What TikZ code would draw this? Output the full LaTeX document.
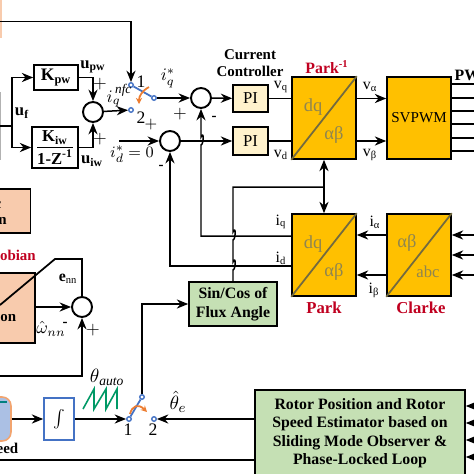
\documentclass[tikz,border=0pt]{standalone}
\usepackage{fontspec}
\setmainfont{Liberation Serif}
\usetikzlibrary{arrows.meta}
\definecolor{peach}{HTML}{F8CBAD}
\definecolor{amber}{HTML}{FFC000}
\definecolor{leaf}{HTML}{C5E0B4}
\definecolor{cream}{HTML}{FFF2CC}
\definecolor{swblue}{HTML}{4472C4}
\definecolor{swor}{HTML}{ED7D31}
\definecolor{redlab}{HTML}{C00020}
\definecolor{dqcol}{HTML}{8F8550}
\tikzset{
  box/.style={draw, line width=.9pt, inner sep=0pt},
  pibox/.style={box, fill=cream, minimum width=.7cm, minimum height=.55cm, font=\fontsize{9.5}{11}\selectfont},
  dqbox/.style={box, fill=amber, minimum width=1.28cm, minimum height=1.64cm, font=\fontsize{8.6}{10}\selectfont},
  sumc/.style={circle, draw, line width=1.1pt, fill=white, minimum size=.4cm, inner sep=0pt},
  swc/.style={circle, draw=swblue, line width=.8pt, fill=white, minimum size=.09cm, inner sep=0pt},
  lab/.style={font=\fontsize{9}{10}\selectfont, inner sep=0pt},
  mlab/.style={font=\fontsize{10}{11}\selectfont, inner sep=0pt},
  blab/.style={font=\fontsize{8.5}{10}\bfseries\selectfont, inner sep=0pt},
  redt/.style={blab, text=redlab},
  dqt/.style={font=\fontsize{10.5}{12}\selectfont, text=dqcol, inner sep=0pt},
  diag/.style={draw=dqcol!80!black, line width=1pt}
}
\begin{document}
\begin{tikzpicture}[>={Stealth[length=6.5pt,width=5.2pt]}, x=.02cm, y=-.02cm, line width=.85pt]
\path[use as bounding box, clip] (0,0) rectangle (474,474);
\fill[white] (0,0) rectangle (474,474);
% cut off blocks on the left edge
\fill[peach] (-10,-5) rectangle (2,38);
\fill[gray!60] (-10,92) rectangle (1.5,160);
\node[box, fill=peach, minimum width=1.02cm, minimum height=.88cm] (emu) at (5,211) {};
\node[blab, anchor=east] (emua) at (2,205) {c};
\node[blab, anchor=east] (emub) at (7.5,221) {n};
\node[box, fill=peach, minimum width=1.4cm, minimum height=1.4cm] (nnet) at (0,308) {};
\node[blab, anchor=east] (nneta) at (17,318) {on};
\node[redt, anchor=east] (jac) at (36.5,255) {Jacobian};
\node[box, draw=swor!70, fill=swblue!45, rounded corners=5pt, minimum width=.8cm, minimum height=.88cm] (speed) at (-9,419) {};
\draw[teal, line width=.8pt] (0,402) -- (7,402);
\node[blab, anchor=east] (speedt) at (19,450) {Speed};
% upper left loop
\node[box, minimum width=.88cm, minimum height=.5cm, font=\fontsize{10}{12}\bfseries\selectfont] (kpw) at (56,77.5) {K\textsubscript{pw}};
\node[box, minimum width=.92cm, minimum height=.82cm, font=\fontsize{9.5}{11}\bfseries\selectfont] (kiw) at (55,147.5) {$\displaystyle\frac{\textbf{K\textsubscript{iw}}}{\textbf{1-Z\textsuperscript{-1}}}$};
\node[sumc] (sumu) at (93,112) {};
\coordinate (fin) at (-2,126);
\coordinate (fj) at (12,126);
\draw (fin) -- (fj);
\draw[->] (fj) |- (kpw);
\draw[->] (fj) |- (kiw);
\draw[->] (kpw) -| (sumu);
\draw[->] (kiw) -| (sumu);
\node[blab, font=\fontsize{9.5}{11}\bfseries\selectfont] (uf) at (22,113) {u\textsubscript{f}};
\node[blab, font=\fontsize{9.5}{11}\bfseries\selectfont] (upw) at (93,67) {u\textsubscript{pw}};
\node[blab, font=\fontsize{9.5}{11}\bfseries\selectfont] (uiw) at (92,161) {u\textsubscript{iw}};
\node[mlab] (pa) at (100,84) {$+$};
\node[mlab] (pb) at (100,139) {$+$};
% current switch
\node[swc] (swa) at (131,85) {};
\node[swc] (swb) at (131,110) {};
\node[swc] (swq) at (154,98) {};
\coordinate (topl) at (-2,21.5);
\draw[->] (topl) -| (swa);
\draw[->] (sumu) -- (swb);
\draw[swblue, line width=1pt] (swa) -- (swq);
\draw[->, swor, line width=1pt, >={Stealth[length=3.5pt,width=3.5pt]}] (149,87) .. controls (142,91) and (139,96) .. (139,104);
\node[mlab] (sa) at (141,82) {1};
\node[mlab] (sb) at (141,118) {2};
\node[mlab, anchor=west] (inf) at (106,96) {$i_q^{\,\textit{\fontsize{7.5}{8}\selectfont nfc}}$};
\node[mlab] (iqs) at (168,78) {$i_q^{*}$};
\node[lab] (pc) at (151,125) {$+$};
% current controllers
\node[sumc] (sumq) at (201,98) {};
\node[sumc] (sumd) at (170,141) {};
\node[pibox] (pia) at (250.5,98.5) {PI};
\node[pibox] (pib) at (250.5,141) {PI};
\coordinate (idin) at (119,141);
\node[mlab, font=\fontsize{9.5}{11}\selectfont] (ids) at (132,154) {$i_d^{*}=0$};
\draw[->] (swq) -- (sumq);
\draw[->] (idin) -- (sumd);
\draw[->] (sumq) -- (pia);
\draw[->] (sumd) -- (pib);
\node[mlab] (pd) at (180,114) {$+$};
\node[blab] (me) at (214,118) {-};
\node[blab] (mf) at (161,167) {-};
\node[blab, align=center, font=\fontsize{8.5}{9.6}\bfseries\selectfont] (ctl) at (250,63.5) {Current\\Controller};
% inverse park and svpwm
\node[dqbox] (parkinv) at (324,118) {};
\node[dqbox] (svpwm) at (419,118) {SVPWM};
\draw[diag] (parkinv.south west) -- (parkinv.north east);
\node[dqt] (dqa) at (313,107) {dq};
\node[dqt] (aba) at (334,135) {αβ};
\node[redt, font=\fontsize{9}{10}\bfseries\selectfont] (parkit) at (327,67) {Park\textsuperscript{-1}};
\draw (pia) -- (pia -| parkinv.west);
\draw (pib) -- (pib -| parkinv.west);
\draw[->] (pia -| parkinv.east) -- (pia -| svpwm.west);
\draw[->] (pib -| parkinv.east) -- (pib -| svpwm.west);
\node[lab] (vq) at (281,87) {v\textsubscript{q}};
\node[lab] (vd) at (281,155) {v\textsubscript{d}};
\node[lab] (va) at (370,87) {v\textsubscript{α}};
\node[lab] (vb) at (370,155) {v\textsubscript{β}};
\node[blab, anchor=west, font=\fontsize{9}{10}\bfseries\selectfont] (pwm) at (454,75) {PWM};
\foreach \y in {84,98,111,124,138,151}{
  \coordinate (pw\y) at (476,\y);
  \draw (pw\y -| svpwm.east) -- (pw\y);
}
% park and clarke
\node[dqbox] (park) at (324,255) {};
\node[dqbox] (clarke) at (419,255) {};
\draw[diag] (park.south west) -- (park.north east);
\draw[diag] (clarke.south west) -- (clarke.north east);
\node[dqt] (dqb) at (313,244) {dq};
\node[dqt] (abb) at (334,272) {αβ};
\node[dqt] (abc) at (407,243) {αβ};
\node[dqt, font=\fontsize{9.5}{11}\selectfont] (abcd) at (428,272) {abc};
\node[redt, font=\fontsize{9.5}{10}\bfseries\selectfont] (parkt) at (324,308) {Park};
\node[redt, font=\fontsize{9.5}{10}\bfseries\selectfont] (clarket) at (421,308) {Clarke};
\draw[<->] (parkinv) -- (park);
\coordinate (ca) at (0,235);
\coordinate (cb) at (0,275);
\draw[->] (ca -| clarke.west) -- (ca -| park.east);
\draw[->] (cb -| clarke.west) -- (cb -| park.east);
\foreach \y in {235,255,275}{
  \coordinate (ph\y) at (476,\y);
  \draw[->] (ph\y) -- (ph\y -| clarke.east);
}
\node[lab] (iq) at (281,222) {i\textsubscript{q}};
\node[lab] (id) at (281,258) {i\textsubscript{d}};
\node[lab] (ia) at (375,222) {i\textsubscript{α}};
\node[lab] (ib) at (374,290) {i\textsubscript{β}};
% feedback with jumps
\node[box, fill=leaf, minimum width=1.76cm, minimum height=.88cm, align=center, font=\fontsize{9}{11}\bfseries\selectfont] (sincos) at (233,304) {Sin/Cos of\\Flux Angle};
\coordinate (iqp) at (292,236);
\coordinate (idp) at (292,266);
\coordinate (bumpq) at (201,145);
\coordinate (bumpa) at (233,270);
\coordinate (bumpb) at (233,240);
\coordinate (parkj) at (324,187);
\draw[->] (iqp) -| (bumpq) .. controls +(3,-1) and +(3,-7) .. ++(0,-8) -- (sumq);
\draw[->] (idp) -| (sumd);
\draw (sincos) -- (bumpa) .. controls +(3,-1) and +(3,-7) .. ++(0,-8) -- (bumpb) .. controls +(3,-1) and +(3,-7) .. ++(0,-8) |- (parkj);
% neural net error
\node[sumc] (sumw) at (82,307) {};
\coordinate (enn) at (55,259);
\coordinate (netl) at (0,305);
\coordinate (wback) at (-2,376);
\draw[line width=1pt] (netl) -- (enn) -| (sumw);
\draw[->] (nnet.east |- sumw) -- (sumw);
\draw[->] (wback) -| (sumw);
\node[lab] (ennl) at (68,279) {\textbf{e}\textsubscript{nn}};
\node[mlab] (wnn) at (51,329) {$\hat{\omega}_{nn}$};
\node[blab] (mg) at (65,324) {-};
\node[mlab] (pe) at (93,330) {$+$};
% bottom row
\node[box, draw=swblue, fill=white, minimum width=.6cm, minimum height=.84cm] (intg) at (59,419) {$\int$};
\node[swc] (swl) at (129,419) {};
\node[swc] (swr) at (154,419) {};
\node[swc] (swt) at (142,397) {};
\node[box, fill=leaf, minimum width=4.2cm, minimum height=1.72cm, align=center, font=\fontsize{9}{10.5}\bfseries\selectfont] (rotor) at (360,433) {Rotor Position and Rotor\\Speed Estimator based on\\Sliding Mode Observer \&\\Phase-Locked Loop};
\draw[->] (speed.east |- intg) -- (intg);
\draw[->] (intg) -- (swl);
\draw[->] (rotor.west |- swr) -- (swr);
\draw[->] (swt) |- (sincos);
\draw[swblue, line width=1pt] (swl) -- (swt);
\draw[->, swor, line width=1pt, >={Stealth[length=3.5pt,width=3.5pt]}] (130,414) .. controls (132,406) and (138,403) .. (147,412);
\draw[teal!80!green, line width=.9pt] (83,409) -- (94,389) -- (94,409) -- (106,389) -- (106,409) -- (117,389) -- (117,409);
\node[mlab] (swla) at (128,430) {1};
\node[mlab] (swlb) at (153,430) {2};
\node[mlab, font=\fontsize{11}{12}\selectfont] (tauto) at (107,377) {$\theta$\textsubscript{\textit{auto}}};
\node[mlab, font=\fontsize{11}{12}\selectfont] (the) at (178,402) {$\hat{\theta}_{e}$};
\coordinate (botl) at (-2,460);
\draw (botl) -- (botl -| rotor.west);
\foreach \y in {406,423,440,457}{
  \coordinate (rt\y) at (480,\y);
  \draw[->] (rt\y) -- (rt\y -| rotor.east);
}
\end{tikzpicture}
\end{document}
